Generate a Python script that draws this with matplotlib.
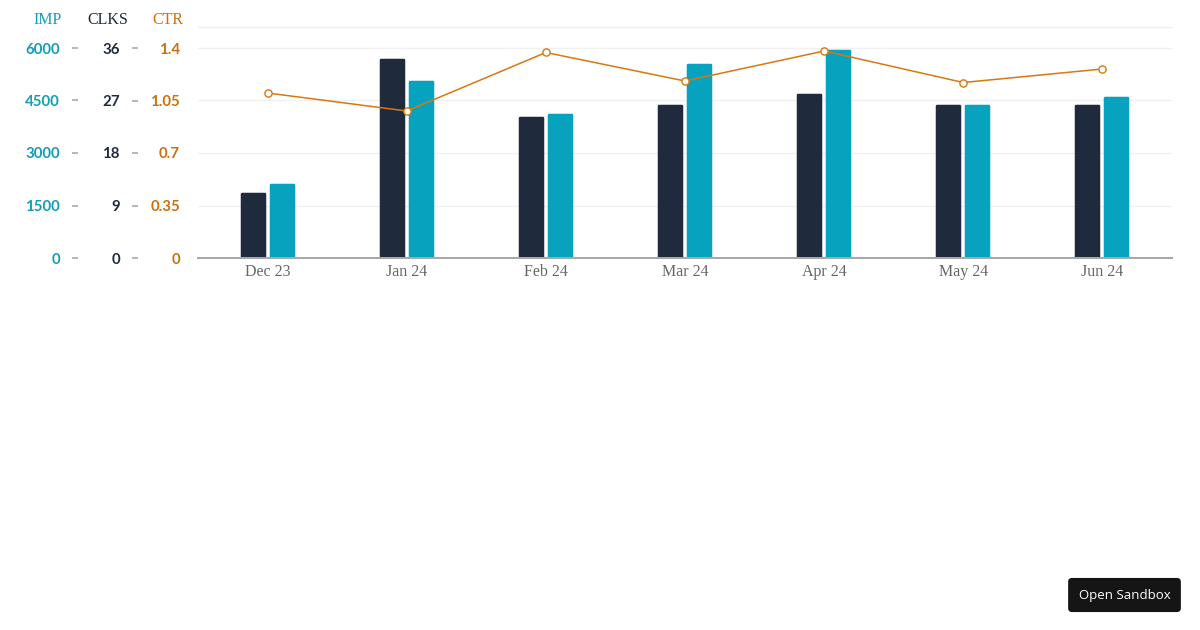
import numpy as np
import matplotlib
matplotlib.use("Agg")
import matplotlib.pyplot as plt

# ---- data ----
months = ["Dec 23", "Jan 24", "Feb 24", "Mar 24", "Apr 24", "May 24", "Jun 24"]
clicks = [11, 34, 24, 26, 28, 26, 26]
impressions = [2100, 5030, 4100, 5510, 5910, 4350, 4570]
ctr = [1.10, 0.98, 1.37, 1.18, 1.38, 1.17, 1.26]

imp_ticks = [0, 1500, 3000, 4500, 6000]
clk_ticks = [0, 9, 18, 27, 36]
ctr_ticks = [0, 0.35, 0.7, 1.05, 1.4]
ctr_tick_labels = ["0", "0.35", "0.7", "1.05", "1.4"]

# ---- style ----
C_DARK = "#1f2a3c"
C_TEAL = "#07a3be"
C_ORANGE = "#d9780f"
C_ORANGE_TXT = "#c8720e"
C_TEAL_TXT = "#139db6"
C_GRID = "#f0f0f0"
C_AXIS = "#a8a8a8"
SERIF = ["Liberation Serif", "DejaVu Serif"]
SANS_B = ["Lato", "DejaVu Sans"]
PX = 72 / 100  # points per pixel

W, H = 1200, 630
fig = plt.figure(figsize=(W / 100, H / 100), dpi=100)
fig.patch.set_facecolor("white")

left, right, bottom, top = 198, 1172, 258, 27
ax = fig.add_axes([left / W, 1 - bottom / H, (right - left) / W, (bottom - top) / H])
ax_clk = ax.twinx()
ax_ctr = ax.twinx()

x = np.arange(len(months))
bw = 0.165
off = 0.104

# IMP bars
ax.bar(x + off, impressions, width=bw, color=C_TEAL, edgecolor=C_TEAL,
       linewidth=2.5 * PX, joinstyle="round", zorder=3)
# CLKS bars
ax_clk.bar(x - off, clicks, width=bw, color=C_DARK, edgecolor=C_DARK,
           linewidth=2.5 * PX, joinstyle="round", zorder=3)
# CTR line
ax_ctr.plot(x, ctr, color=C_ORANGE, linewidth=1.1, marker="o",
            markersize=5.2, markerfacecolor="white", markeredgecolor=C_ORANGE,
            markeredgewidth=1.0, zorder=5)

ax.set_xlim(-0.5, len(months) - 0.5)
ax.set_ylim(0, 6600)
ax_clk.set_ylim(0, 39.6)
ax_ctr.set_ylim(0, 1.54)

# grid
ax.set_yticks(imp_ticks)
ax.yaxis.grid(True, color=C_GRID, linewidth=1.0, zorder=0)
ax.set_axisbelow(True)

for a in (ax, ax_clk, ax_ctr):
    for s in a.spines.values():
        s.set_color("none")
ax.spines["top"].set_color(C_GRID)
ax.spines["top"].set_linewidth(1.0)
ax_ctr.spines["bottom"].set_visible(True)
ax_ctr.spines["bottom"].set_color(C_AXIS)
ax_ctr.spines["bottom"].set_linewidth(2 * PX)
ax_ctr.spines["bottom"].set_zorder(10)

# x ticks
ax.set_xticks(x)
ax.set_xticklabels(months, fontfamily=SERIF, fontsize=11.5, color="#666666")
ax.tick_params(axis="x", length=0, pad=4.5)
for a in (ax_clk, ax_ctr):
    a.tick_params(axis="x", bottom=False, labelbottom=False, top=False, labeltop=False)

# IMP axis (outermost): spine at x=78 px
ax.spines["left"].set_position(("outward", 120 * PX))
ax.yaxis.set_ticks_position("left")
ax.set_yticklabels([str(v) for v in imp_ticks], fontfamily=SANS_B, fontweight="bold",
                   fontsize=10.8, color=C_TEAL_TXT)
ax.tick_params(axis="y", direction="out", length=6 * PX, width=1.2, color="#aaaaaa",
               pad=12 * PX)

# CLKS axis: spine at x=138 px
ax_clk.yaxis.tick_left()
ax_clk.spines["left"].set_position(("outward", 60 * PX))
ax_clk.set_yticks(clk_ticks)
ax_clk.set_yticklabels([str(v) for v in clk_ticks], fontfamily=SANS_B, fontweight="bold",
                       fontsize=10.8, color=C_DARK)
ax_clk.tick_params(axis="y", direction="out", length=6 * PX, width=1.2, color="#aaaaaa",
                   pad=12 * PX, right=False, labelright=False)

# CTR axis
ax_ctr.yaxis.tick_left()
ax_ctr.spines["left"].set_position(("outward", 0))
ax_ctr.set_yticks(ctr_ticks)
ax_ctr.set_yticklabels(ctr_tick_labels, fontfamily=SANS_B, fontweight="bold",
                       fontsize=10.8, color=C_ORANGE_TXT)
ax_ctr.tick_params(axis="y", length=0, pad=18 * PX, right=False, labelright=False)

# headers
hy = 1 - 18 / H
fig.text(48 / W, hy, "IMP", ha="center", va="center_baseline", fontfamily=SERIF, fontsize=11.5, color=C_TEAL_TXT)
fig.text(108 / W, hy, "CLKS", ha="center", va="center_baseline", fontfamily=SERIF, fontsize=11.5, color=C_DARK)
fig.text(168 / W, hy, "CTR", ha="center", va="center_baseline", fontfamily=SERIF, fontsize=11.5, color=C_ORANGE_TXT)

# sandbox button
fig.text(1124.5 / W, 1 - 595 / H, "Open Sandbox", ha="center", va="center",
         fontfamily=["Open Sans", "DejaVu Sans"], fontsize=9.5, color="white",
         bbox=dict(boxstyle="round,pad=0.8,rounding_size=0.3", facecolor="#151515",
                   edgecolor="none"))

fig.savefig("out.png", dpi=100, facecolor="white")
